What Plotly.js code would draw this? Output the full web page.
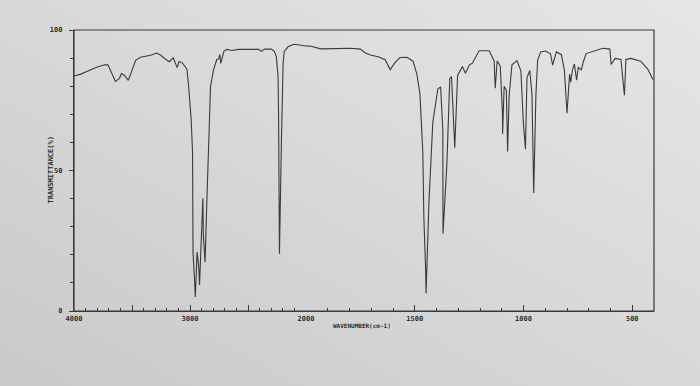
<!DOCTYPE html>
<html>
<head>
<meta charset="utf-8">
<script src="https://cdn.plot.ly/plotly-3.0.1.min.js"></script>
<style>
  html, body { margin: 0; padding: 0; }
  body { width: 700px; height: 386px; background: linear-gradient(to top right, #c9c9c9 0%, #d8d8d8 50%, #e6e6e6 100%); }
  #chart { width: 700px; height: 386px; }
</style>
</head>
<body>
<div id="chart"></div>
<script>
// Wavenumber (cm-1)
const wavenumber = [
  4000, 3941, 3881, 3794, 3734, 3708, 3684, 3643, 3608, 3591, 3565, 3532, 3505, 3469, 3426, 3383,
  3340, 3288, 3255, 3213, 3179, 3144, 3111, 3094, 3068, 3043, 3026, 3012, 2990, 2978, 2976, 2974,
  2960, 2954, 2939, 2924, 2918, 2903, 2889, 2885, 2870, 2855, 2838, 2823, 2796, 2787, 2769, 2752,
  2743, 2735, 2708, 2682, 2640, 2580, 2495, 2409, 2384, 2358, 2298, 2273, 2256, 2241, 2236, 2233,
  2229, 2211, 2197, 2188, 2153, 2102, 2042, 1977, 1932, 1795, 1750, 1727, 1704, 1668, 1636, 1613,
  1591, 1568, 1536, 1508, 1490, 1476, 1463, 1458, 1450, 1448, 1435, 1417, 1394, 1381, 1371, 1370,
  1352, 1339, 1331, 1321, 1316, 1303, 1281, 1267, 1249, 1235, 1204, 1158, 1135, 1130, 1121, 1107,
  1097, 1096, 1089, 1079, 1073, 1066, 1053, 1030, 1012, 1001, 991, 984, 971, 961, 953, 943,
  935, 921, 898, 876, 866, 849, 826, 812, 800, 788, 783, 775, 766, 756, 748, 734,
  725, 712, 666, 635, 603, 597, 579, 552, 536, 529, 507, 461, 428, 405
];
// Transmittance (%)
const transmittance = [
  83.6, 84.3, 85.4, 86.9, 87.6, 87.6, 85.5, 81.7, 82.8, 84.5, 83.8, 82.1, 85.0, 89.2, 90.3, 90.7,
  91.0, 91.8, 91.1, 89.7, 88.7, 90.1, 86.6, 88.8, 88.4, 87.0, 86.0, 80.0, 68.3, 56.3, 33.0, 21.0,
  10.3, 5.0, 21.0, 15.3, 9.3, 27.0, 40.1, 27.0, 17.4, 38.7, 62.3, 80.0, 86.0, 87.0, 89.5, 89.8,
  91.3, 88.1, 92.4, 93.1, 92.7, 93.1, 93.1, 93.1, 92.4, 93.2, 93.2, 92.4, 90.6, 83.5, 68.3, 44.6,
  20.4, 62.3, 88.2, 92.4, 94.1, 94.9, 94.6, 94.2, 93.3, 93.5, 93.2, 91.8, 91.1, 90.5, 89.4, 85.9,
  88.4, 90.2, 90.3, 88.9, 84.2, 77.1, 56.6, 32.9, 15.0, 6.3, 38.3, 67.1, 79.0, 79.7, 64.6, 27.5,
  52.8, 82.7, 83.4, 64.6, 58.1, 83.8, 87.0, 84.6, 87.5, 88.2, 92.6, 92.6, 89.0, 79.3, 89.0, 87.2,
  70.9, 63.0, 80.0, 78.6, 56.8, 76.7, 87.6, 89.1, 85.5, 67.4, 57.6, 83.1, 85.6, 76.9, 42.0, 76.9,
  89.2, 92.2, 92.5, 91.5, 87.5, 92.2, 91.2, 85.7, 70.4, 84.3, 81.4, 85.7, 87.9, 82.1, 86.8, 85.7,
  88.7, 91.6, 92.7, 93.5, 93.2, 87.7, 89.9, 89.5, 76.8, 89.5, 89.9, 88.9, 86.0, 82.4
];
// Axis tick labels
const highTickVals = [4000, 3500, 3000, 2500];
const highTickText = ['4000', '', '3000', ''];
const lowTickVals = [2000, 1500, 1000, 500];
const lowTickText = ['2000', '1500', '1000', '500'];
const yTickVals = [0, 50, 100];
const yTickText = ['0', '50', '100'];
const xTitle = 'WAVENUMBER(cm-1)';
const yTitle = 'TRANSMITTANCE(%)';

// split into the two scale regions (one neighbour point past 2000 so the line joins; it is clipped)
let iSplit = wavenumber.findIndex(w => w < 2000);
const hiX = wavenumber.slice(0, iSplit + 1), hiY = transmittance.slice(0, iSplit + 1);
const loX = wavenumber.slice(iSplit - 1), loY = transmittance.slice(iSplit - 1);

const ink = '#3a3a3a';
const lineStyle = { color: ink, width: 1.1, shape: 'linear' };
const monoFont = 'DejaVu Sans Mono, monospace';
const tickFont = { family: monoFont, size: 7, color: '#2e2e2e', weight: 'bold' };

const traces = [
  { x: hiX, y: hiY, xaxis: 'x', yaxis: 'y', type: 'scatter', mode: 'lines', line: lineStyle, hoverinfo: 'x+y' },
  { x: loX, y: loY, xaxis: 'x2', yaxis: 'y', type: 'scatter', mode: 'lines', line: lineStyle, hoverinfo: 'x+y' }
];

const commonX = {
  showgrid: false, zeroline: false, showline: true, linecolor: '#3a3a3a', linewidth: 1.2,
  ticks: 'inside', ticklen: 6, tickcolor: '#3a3a3a', tickwidth: 1,
  tickfont: tickFont, anchor: 'y', tickmode: 'array',
  minor: { dtick: 100, tick0: 0, ticks: 'inside', ticklen: 3, tickcolor: '#3a3a3a', tickwidth: 1, showgrid: false }
};

const layout = {
  width: 700, height: 386,
  margin: { l: 74, r: 46, t: 30, b: 75 },
  paper_bgcolor: 'rgba(0,0,0,0)',
  plot_bgcolor: 'rgba(0,0,0,0)',
  showlegend: false,
  xaxis: Object.assign({}, commonX, { domain: [0, 0.4], range: [4000, 2000], tickvals: highTickVals, ticktext: highTickText }),
  xaxis2: Object.assign({}, commonX, { domain: [0.4, 1], range: [2000, 400], tickvals: lowTickVals, ticktext: lowTickText }),
  yaxis: {
    range: [0, 100], showgrid: false, zeroline: false, showline: true, linecolor: '#3a3a3a', linewidth: 1.2,
    ticks: 'outside', ticklen: 4, tickcolor: '#3a3a3a', tickmode: 'array', tickvals: yTickVals, ticktext: yTickText,
    tickfont: tickFont, ticklabelstandoff: 5,
    minor: { dtick: 10, tick0: 0, ticks: 'outside', ticklen: 3, tickcolor: '#3a3a3a', showgrid: false }
  },
  shapes: [
    { type: 'rect', xref: 'paper', yref: 'paper', x0: 0, x1: 1, y0: 0, y1: 1, line: { color: '#3a3a3a', width: 1.2 }, fillcolor: 'rgba(0,0,0,0)' }
  ],
  annotations: [
    { text: xTitle, xref: 'paper', yref: 'paper', x: 0.497, y: 0, yshift: -9, xanchor: 'center', yanchor: 'top', showarrow: false,
      font: { family: monoFont, size: 6, color: '#2e2e2e', weight: 'bold' } },
    { text: yTitle, xref: 'paper', yref: 'paper', x: 0, y: 0.5, xshift: -24, xanchor: 'center', yanchor: 'middle', textangle: -90, showarrow: false,
      font: { family: monoFont, size: 7, color: '#2e2e2e', weight: 'bold' } }
  ]
};

Plotly.newPlot('chart', traces, layout, { displayModeBar: false, staticPlot: true });
</script>
</body>
</html>
